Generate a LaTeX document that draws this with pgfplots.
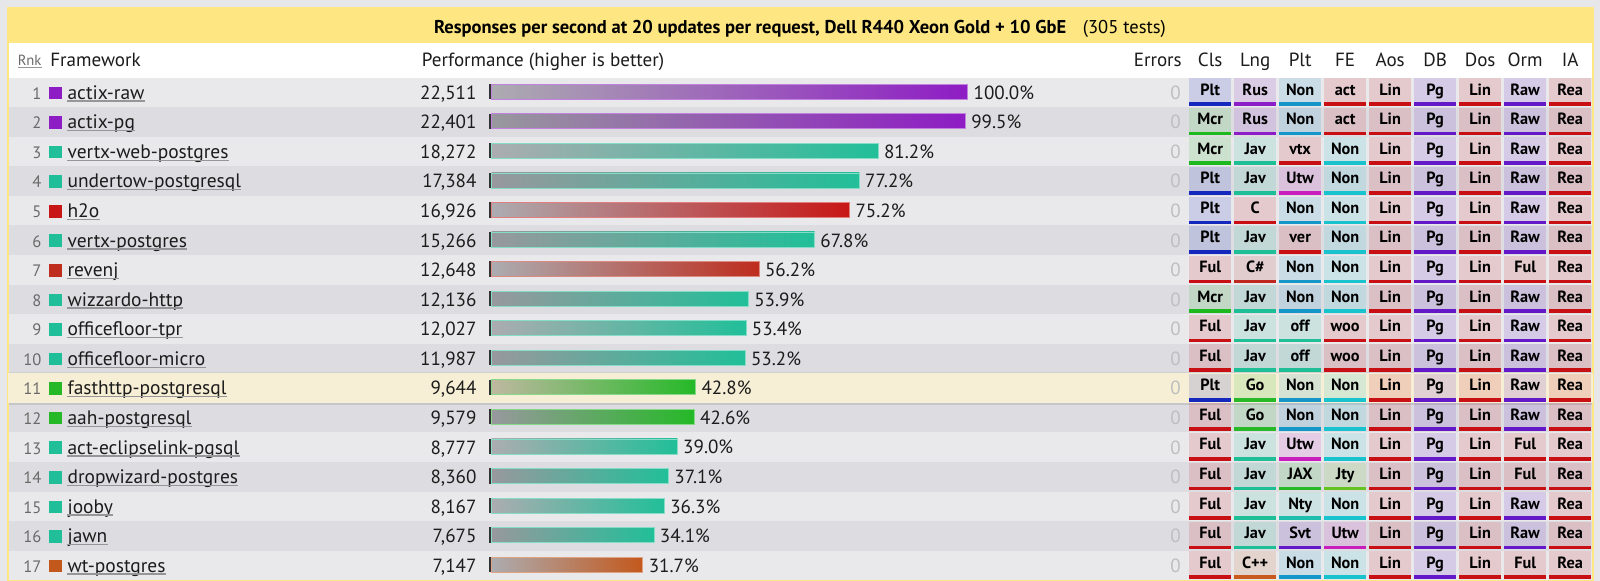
\documentclass[border=0pt]{standalone}
\usepackage{fontspec}
\setmainfont{PT Sans}
\usepackage{pgfplots}
\pgfplotsset{compat=1.18}

% page colours
\definecolor{outerbg}{RGB}{231,231,234}
\definecolor{hdyellow}{RGB}{254,230,130}
\definecolor{stripeA}{RGB}{233,233,236}
\definecolor{stripeB}{RGB}{221,221,225}
\definecolor{hilite}{RGB}{246,239,213}
\definecolor{textcol}{RGB}{28,28,28}
\definecolor{rankgray}{RGB}{105,105,105}
\definecolor{zerocol}{RGB}{190,190,192}
\definecolor{ulcol}{RGB}{150,150,152}
\definecolor{tickcol}{RGB}{50,50,50}
\definecolor{barstartA}{RGB}{172,172,176}
\definecolor{barstartB}{RGB}{152,152,157}
\definecolor{barstartH}{RGB}{190,184,160}
% language colours
\definecolor{rustc}{RGB}{142,28,196}
\definecolor{javac}{RGB}{33,191,153}
\definecolor{cc}{RGB}{200,22,22}
\definecolor{csc}{RGB}{190,45,30}
\definecolor{goc}{RGB}{37,185,40}
\definecolor{cppc}{RGB}{195,88,28}
% tag colours
\definecolor{tPlt}{RGB}{20,40,190}
\definecolor{tMcr}{RGB}{30,185,30}
\definecolor{tRed}{RGB}{200,15,20}
\definecolor{tRus}{RGB}{140,30,200}
\definecolor{tJav}{RGB}{30,190,150}
\definecolor{tNonP}{RGB}{20,150,200}
\definecolor{tNonF}{RGB}{25,195,205}
\definecolor{tVio}{RGB}{100,25,200}
\definecolor{tMag}{RGB}{200,30,190}
\definecolor{tNty}{RGB}{30,190,175}
\definecolor{tJty}{RGB}{100,195,30}
\definecolor{tCpp}{RGB}{200,90,30}
\definecolor{tCs}{RGB}{190,40,30}
\definecolor{tGo}{RGB}{40,185,40}

\newcommand\body{\fontsize{14.3pt}{16pt}\selectfont}
\newcommand\namefont{\fontsize{14.6pt}{16pt}\selectfont}
\newcommand\rankfont{\fontsize{12.4pt}{14pt}\selectfont}
\newcommand\tagfont{\fontsize{12.2pt}{13pt}\selectfont\bfseries}
\newcommand\titlefont{\fontsize{13.9pt}{16pt}\selectfont}

% one table row: rank, square colour, name, requests, tags
\newcommand\frow[5]{%
  \pgfmathsetmacro\rt{77.7+(#1-1)*29.56}%
  \pgfmathsetmacro\rc{\rt+14.78}%
  \pgfmathsetmacro\rb{\rc+6.8}%
  \node[anchor=base east, inner sep=0pt, text=rankgray, font=\rankfont] at (41.7,\rb) {#1};
  \fill[#2] (49.3,{\rc-5.8}) rectangle (62,{\rc+6.8});
  \node[anchor=base west, inner sep=0pt, text=textcol, font=\namefont] (nm) at (67.3,\rb) {#3};
  \draw[ulcol, line width=1pt] ([yshift=-1.4pt]nm.base west) -- ([yshift=-1.4pt]nm.base east);
  \node[anchor=base east, inner sep=0pt, text=textcol, font=\body] at (476.7,\rb) {#4};
  \fill[tickcol] (489.3,{\rc-8.5}) rectangle (491.3,{\rc+6.8});
  \node[anchor=base east, inner sep=0pt, text=zerocol, font=\body] at (1181,\rb) {0};
  \foreach \tg/\tc [count=\k from 0] in {#5} {
    \pgfmathsetmacro\cx{1189.3+\k*45}
    \fill[\tc, opacity=0.14] (\cx,{\rt+0.6}) rectangle ({\cx+41.7},{\rt+24.6});
    \fill[\tc] (\cx,{\rt+24.6}) rectangle ({\cx+41.7},{\rt+28.2});
    \node[anchor=base, inner sep=0pt, text=black, font=\tagfont] at ({\cx+20.85},{\rt+17.5}) {\tg};
  }
}

\begin{document}
\begin{tikzpicture}
\begin{scope}[x=0.75pt, y=-0.75pt]
  \fill[outerbg] (0,0) rectangle (1600,581);
  \fill[hdyellow] (7.3,7.3) rectangle (1593.5,581);
  \fill[white] (8.8,43.5) rectangle (1592,77.7);
  \foreach \i in {1,...,17} {
    \pgfmathsetmacro\rt{77.7+(\i-1)*29.56}
    \ifodd\i \def\sc{stripeA}\else \def\sc{stripeB}\fi
    \fill[\sc] (8.8,\rt) rectangle (1592,{\rt+29.56});
  }
  % highlighted row 11
  \fill[black, opacity=0.06] (8.8,{77.7+10*29.56-1.2}) rectangle (1592,{77.7+10*29.56});
  \fill[black, opacity=0.10] (8.8,{77.7+10*29.56+29.56}) rectangle (1592,{77.7+10*29.56+31.3});
  \fill[hilite] (8.3,{77.7+10*29.56}) rectangle (1592.5,{77.7+10*29.56+29.56});

  % title and header
  \node[anchor=base, inner sep=0pt, text=black, font=\titlefont] at (800,33.3)
    {\textbf{Responses per second at 20 updates per request, Dell R440 Xeon Gold + 10 GbE}\hspace{0.9em}(305 tests)};
  \node[anchor=base east, inner sep=0pt, text=rankgray, font=\fontsize{11pt}{13pt}\selectfont] (rk) at (41.7,65.5) {Rnk};
  \draw[ulcol, line width=0.8pt] ([yshift=-1.3pt]rk.base west) -- ([yshift=-1.3pt]rk.base east);
  \node[anchor=base west, inner sep=0pt, text=textcol, font=\body] at (50,66.7) {Framework};
  \node[anchor=base west, inner sep=0pt, text=textcol, font=\body] at (421.7,66.7) {Performance (higher is better)};
  \node[anchor=base east, inner sep=0pt, text=textcol, font=\body] at (1182,66.7) {Errors};
  \foreach \h [count=\k from 0] in {Cls,Lng,Plt,FE,Aos,DB,Dos,Orm,IA} {
    \node[anchor=base, inner sep=0pt, text=textcol, font=\body] at ({1210.15+\k*45},66.7) {\h};
  }

  \frow{1}{rustc}{actix-raw}{22,511}{Plt/tPlt,Rus/tRus,Non/tNonP,act/tRed,Lin/tRed,Pg/tVio,Lin/tRed,Raw/tVio,Rea/tRed}
  \frow{2}{rustc}{actix-pg}{22,401}{Mcr/tMcr,Rus/tRus,Non/tNonP,act/tRed,Lin/tRed,Pg/tVio,Lin/tRed,Raw/tVio,Rea/tRed}
  \frow{3}{javac}{vertx-web-postgres}{18,272}{Mcr/tMcr,Jav/tJav,vtx/tRed,Non/tNonF,Lin/tRed,Pg/tVio,Lin/tRed,Raw/tVio,Rea/tRed}
  \frow{4}{javac}{undertow-postgresql}{17,384}{Plt/tPlt,Jav/tJav,Utw/tMag,Non/tNonF,Lin/tRed,Pg/tVio,Lin/tRed,Raw/tVio,Rea/tRed}
  \frow{5}{cc}{h2o}{16,926}{Plt/tPlt,C/tRed,Non/tNonP,Non/tNonF,Lin/tRed,Pg/tVio,Lin/tRed,Raw/tVio,Rea/tRed}
  \frow{6}{javac}{vertx-postgres}{15,266}{Plt/tPlt,Jav/tJav,ver/tRed,Non/tNonF,Lin/tRed,Pg/tVio,Lin/tRed,Raw/tVio,Rea/tRed}
  \frow{7}{csc}{revenj}{12,648}{Ful/tRed,C\#/tCs,Non/tNonP,Non/tNonF,Lin/tRed,Pg/tVio,Lin/tRed,Ful/tRed,Rea/tRed}
  \frow{8}{javac}{wizzardo-http}{12,136}{Mcr/tMcr,Jav/tJav,Non/tNonP,Non/tNonF,Lin/tRed,Pg/tVio,Lin/tRed,Raw/tVio,Rea/tRed}
  \frow{9}{javac}{officefloor-tpr}{12,027}{Ful/tRed,Jav/tJav,off/tJav,woo/tRed,Lin/tRed,Pg/tVio,Lin/tRed,Raw/tVio,Rea/tRed}
  \frow{10}{javac}{officefloor-micro}{11,987}{Ful/tRed,Jav/tJav,off/tJav,woo/tRed,Lin/tRed,Pg/tVio,Lin/tRed,Raw/tVio,Rea/tRed}
  \frow{11}{goc}{fasthttp-postgresql}{9,644}{Plt/tPlt,Go/tGo,Non/tNonP,Non/tNonF,Lin/tRed,Pg/tVio,Lin/tRed,Raw/tVio,Rea/tRed}
  \frow{12}{goc}{aah-postgresql}{9,579}{Ful/tRed,Go/tGo,Non/tNonP,Non/tNonF,Lin/tRed,Pg/tVio,Lin/tRed,Raw/tVio,Rea/tRed}
  \frow{13}{javac}{act-eclipselink-pgsql}{8,777}{Ful/tRed,Jav/tJav,Utw/tMag,Non/tNonF,Lin/tRed,Pg/tVio,Lin/tRed,Ful/tRed,Rea/tRed}
  \frow{14}{javac}{dropwizard-postgres}{8,360}{Ful/tRed,Jav/tJav,JAX/tGo,Jty/tJty,Lin/tRed,Pg/tVio,Lin/tRed,Ful/tRed,Rea/tRed}
  \frow{15}{javac}{jooby}{8,167}{Ful/tRed,Jav/tJav,Nty/tNty,Non/tNonF,Lin/tRed,Pg/tVio,Lin/tRed,Raw/tVio,Rea/tRed}
  \frow{16}{javac}{jawn}{7,675}{Ful/tRed,Jav/tJav,Svt/tVio,Utw/tMag,Lin/tRed,Pg/tVio,Lin/tRed,Raw/tVio,Rea/tRed}
  \frow{17}{cppc}{wt-postgres}{7,147}{Ful/tRed,C++/tCpp,Non/tNonP,Non/tNonF,Lin/tRed,Pg/tVio,Lin/tRed,Ful/tRed,Rea/tRed}
\end{scope}

\begin{axis}[
    at={(368.775pt,-434.55pt)}, anchor=south west,
    width=357pt, height=376.875pt, scale only axis,
    hide axis, clip=false,
    xmin=0, xmax=22511,
    ymin=0.5, ymax=17.5, y dir=reverse,
    every axis plot/.append style={
        xbar, bar width=11.25pt, bar shift=0pt, line width=0.5pt,
        point meta=explicit symbolic,
        nodes near coords={\pgfplotspointmeta\%},
        nodes near coords style={anchor=base west, inner sep=0pt,
            xshift=4.2pt, yshift=-5.7pt, font=\body, text=textcol},
    },
]
\addplot[draw=rustc!55, left color=barstartA, right color=rustc] coordinates {(22511,1) [100.0]};
\addplot[draw=rustc!55, left color=barstartB, right color=rustc] coordinates {(22401,2) [99.5]};
\addplot[draw=javac!55, left color=barstartA, right color=javac] coordinates {(18272,3) [81.2]};
\addplot[draw=javac!55, left color=barstartB, right color=javac] coordinates {(17384,4) [77.2]};
\addplot[draw=cc!55, left color=barstartA, right color=cc] coordinates {(16926,5) [75.2]};
\addplot[draw=javac!55, left color=barstartB, right color=javac] coordinates {(15266,6) [67.8]};
\addplot[draw=csc!55, left color=barstartA, right color=csc] coordinates {(12648,7) [56.2]};
\addplot[draw=javac!55, left color=barstartB, right color=javac] coordinates {(12136,8) [53.9]};
\addplot[draw=javac!55, left color=barstartA, right color=javac] coordinates {(12027,9) [53.4]};
\addplot[draw=javac!55, left color=barstartB, right color=javac] coordinates {(11987,10) [53.2]};
\addplot[draw=goc!55, left color=barstartH, right color=goc] coordinates {(9644,11) [42.8]};
\addplot[draw=goc!55, left color=barstartB, right color=goc] coordinates {(9579,12) [42.6]};
\addplot[draw=javac!55, left color=barstartA, right color=javac] coordinates {(8777,13) [39.0]};
\addplot[draw=javac!55, left color=barstartB, right color=javac] coordinates {(8360,14) [37.1]};
\addplot[draw=javac!55, left color=barstartA, right color=javac] coordinates {(8167,15) [36.3]};
\addplot[draw=javac!55, left color=barstartB, right color=javac] coordinates {(7675,16) [34.1]};
\addplot[draw=cppc!55, left color=barstartA, right color=cppc] coordinates {(7147,17) [31.7]};
\end{axis}
\end{tikzpicture}
\end{document}
